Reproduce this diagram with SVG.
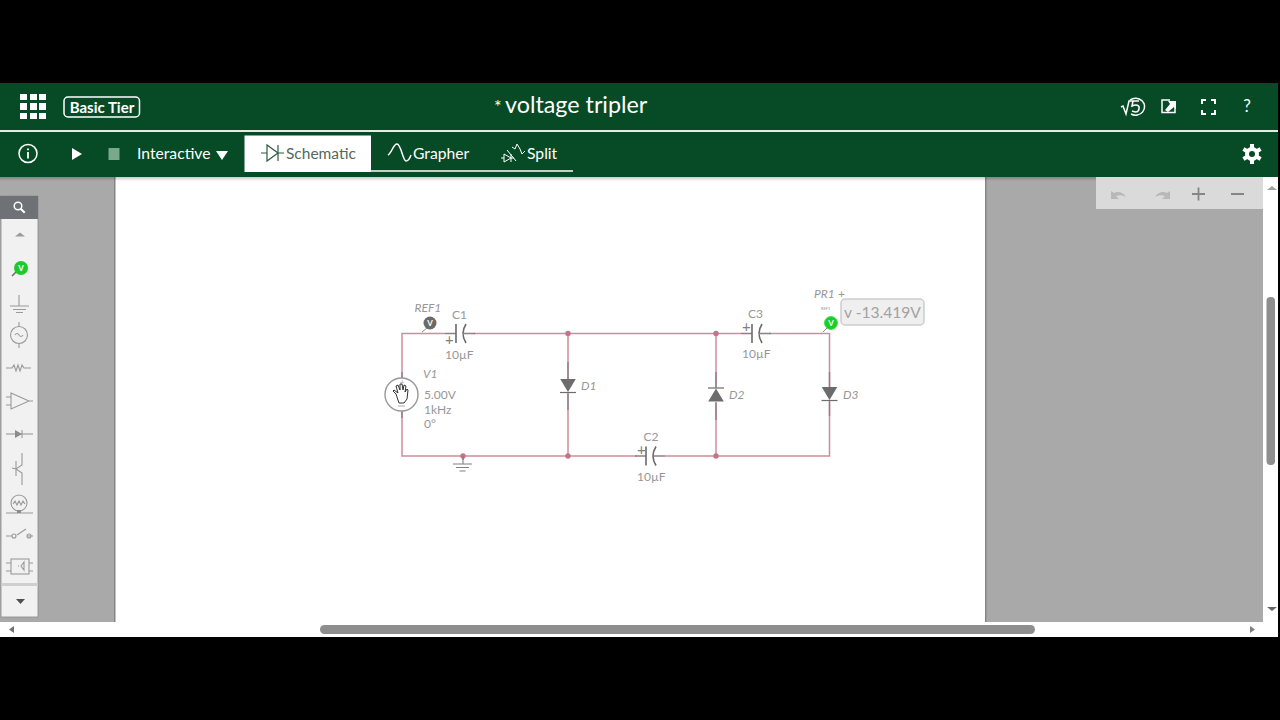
<svg xmlns="http://www.w3.org/2000/svg" width="1280" height="720" viewBox="0 0 1280 720">
<style>
text{font-family:Lato,"Open Sans","Liberation Sans",sans-serif}
.ui{fill:#fff;font-size:15.700px}
.lb{fill:#979797;font-size:12px}
.pl{fill:#808080;font-size:15px}
.it{font-style:italic}
.wire{fill:none;stroke:#d08c9c;stroke-width:1.500}
.lead{fill:none;stroke:#8f7f84;stroke-width:1.400}
.dot{fill:#c4738a}
.dio{fill:#6c6c6c}
.pal{fill:none;stroke:#9a9a9a;stroke-width:1.100}
.palf{fill:#8c8c8c}
.wl{fill:none;stroke:#fff;stroke-width:1.500}
</style>
<defs>
<linearGradient id="sh" x1="0" y1="0" x2="0" y2="1"><stop offset="0" stop-color="#000" stop-opacity=".22"/><stop offset="1" stop-color="#000" stop-opacity="0"/></linearGradient>
<g id="cap"><path class="lead" d="M-15 0H-4M4 0H15"/><path d="M-4-9.500V9.500" stroke="#6a6a6a" stroke-width="1.600" fill="none"/><path d="M6-9.500Q0 0 6 9.500" stroke="#6a6a6a" stroke-width="1.600" fill="none"/></g>
<g id="dd"><path class="dio" d="M-7.800-6.500H7.800L0 6.500Z"/><path d="M-8 7H8" stroke="#6c6c6c" stroke-width="1.200"/></g>
</defs>
<rect width="1280" height="720" fill="#000"/>
<rect x="0" y="83" width="1278" height="554" fill="#fff"/>
<rect x="0" y="83" width="1278" height="94" fill="#074b26"/>
<rect x="0" y="130" width="1278" height="2" fill="#e4ece6"/>
<rect x="0" y="177" width="115" height="445" fill="#a9a9a9"/>
<rect x="985" y="177" width="278" height="445" fill="#a9a9a9"/>
<rect x="115" y="177" width="870" height="445" fill="#fff"/>
<rect x="114" y="177" width="1.500" height="445" fill="#858585"/>
<rect x="985" y="177" width="1.500" height="445" fill="#858585"/>
<rect x="0" y="177" width="1263" height="4" fill="url(#sh)"/>

<g id="header">
<g fill="#fff"><rect x="20" y="94" width="7" height="6"/><rect x="30" y="94" width="7" height="6"/><rect x="39" y="94" width="7" height="6"/><rect x="20" y="103" width="7" height="7"/><rect x="30" y="103" width="7" height="7"/><rect x="39" y="103" width="7" height="7"/><rect x="20" y="113" width="7" height="6"/><rect x="30" y="113" width="7" height="6"/><rect x="39" y="113" width="7" height="6"/></g>
<rect x="64" y="97" width="75.500" height="20" rx="4" fill="none" stroke="#fff" stroke-width="1.500"/>
<text x="102" y="113" text-anchor="middle" font-size="15" font-weight="700" fill="#fff">Basic Tier</text>
<text x="494" y="113" font-size="18" fill="#fff">*</text>
<text x="505" y="112.500" font-size="23.300" fill="#fff">voltage tripler</text>
<g id="tool-icons">
<path class="wl" d="M1121 107l2-1 3 8 3-13h3"/>
<path class="wl" stroke-width="1.800" d="M1130 100a9 8.500 0 1 1 1 14M1132 101h7M1133 101l-1 5c4-2 8-1 7 3s-4 3-7 2"/>
<path class="wl" d="M1170 100h-8v12.500h13v-6"/><path d="M1165 110l5-6-2-3h8v8l-2-2-6 5z" fill="#fff"/>
<path d="M1202 104v-4h4M1211 100h4v4M1215 110v4h-4M1206 114h-4v-4" fill="none" stroke="#fff" stroke-width="2"/>
<text x="1247" y="112" text-anchor="middle" font-size="17" fill="#fff">?</text>
</g>
</g>

<g id="toolbar">
<circle cx="28" cy="153.500" r="9" fill="none" stroke="#fff" stroke-width="1.500"/>
<path d="M28 152v6.500M28 148.500v1.800" stroke="#fff" stroke-width="1.800"/>
<path d="M72 148l10 6-10 6z" fill="#fff"/>
<rect x="108.500" y="148" width="11" height="12" fill="#79a88d"/>
<text x="137" y="159" class="ui">Interactive</text>
<path d="M216 151h12l-6 9z" fill="#fff"/>
<rect x="244.500" y="135.500" width="126.500" height="36.500" fill="#fff"/>
<path d="M371 171H573" stroke="#fff" stroke-width="1.500"/>
<path d="M261 153h6M267 145v16l11-8zM278 145v16M278 153h6" fill="none" stroke="#2a5c40" stroke-width="1.200"/>
<text x="286" y="159" font-size="15.500" fill="#55695d">Schematic</text>
<path class="wl" d="M388 155c4-2 5-11 9-11s6 17 9 17 4-3 5-6"/>
<text x="413" y="159" class="ui">Grapher</text>
<path d="M504 162l7-4-7-4zM511 154v8M501 158h3M511 158h3M507 150l9 11M512 147l3 2 2-5 3 5 2 5 3-3" fill="none" stroke="#fff" stroke-width="1"/>
<text x="527" y="159" class="ui">Split</text>
<g id="gear" transform="translate(1252 154)"><circle r="7" fill="#fff"/><path d="M0-10V10M-8.600-5L8.600 5M-8.600 5L8.600-5" stroke="#fff" stroke-width="4"/><circle r="3" fill="#074b26"/></g>
</g>

<g id="palette">
<rect x="1" y="196" width="37" height="421" fill="#f1f1f1" stroke="#8a8a8a" stroke-width=".8"/>
<rect x="0" y="196" width="38" height="23" fill="#6e7276"/>
<circle cx="18" cy="206" r="3.800" fill="none" stroke="#fff" stroke-width="1.500"/><path d="M20.700 208.700l4 4" stroke="#fff" stroke-width="2"/>
<path d="M15 236.500l5-4 5 4z" fill="#9a9a9a"/>
<path d="M12 276l4-4" stroke="#666" stroke-width="1.500"/><circle cx="21" cy="268" r="7" fill="#1ec92c"/><text x="21" y="271" text-anchor="middle" font-size="8" font-weight="700" fill="#fff">V</text>
<path class="pal" d="M19 295v11M10 306h19M13 309.500h13M16 312.500h7"/>
<path class="pal" d="M19 322v5M19 343v5"/><circle class="pal" cx="19" cy="335" r="8.500"/><path class="pal" d="M15 335q2-3 4 0t4 0"/>
<path class="pal" d="M6 368h6l2-3 2 6 2-6 2 6 2-6 2 3h7"/>
<path class="pal" d="M11 393l18 8-18 8zM6 397h5M6 405h5M29 401h4"/>
<path class="pal" d="M6 434h27"/><path class="palf" d="M15 430l7 4-7 4z"/><path class="pal" d="M22 430v8"/>
<path class="pal" d="M22 453v12l-6 4-4-1M16 461v15M16 469l6 4v12"/>
<circle class="pal" cx="19" cy="503" r="8"/><path class="pal" d="M13 504l2-3 2 4 2-4 2 4 2-4 2 3M6 513h27"/><path class="palf" d="M17 510h4v3h-4z"/>
<path class="pal" d="M6 536h6M17 535l9-6M27 536h6"/><circle class="pal" cx="14" cy="536" r="2"/><circle class="pal" cx="29" cy="536" r="2"/>
<rect class="pal" x="11" y="559" width="18" height="15"/><path class="pal" d="M6 563h5M6 571h5M29 563h4M29 571h4M18 566h1M24 562l-3 4 3 4z"/>
<rect x="1" y="583" width="37" height="3" fill="#cfcfcf"/>
<path d="M16 599h9l-4.500 5z" fill="#505050"/>
</g>

<g id="connectors">
<path class="wire" d="M445 333.500H402V381M402 408V456H568M474 333.500H741M769 333.500H829.500V387M829.500 402V456H665M637 456H568"/>
<path class="wire" d="M568 333.500V380M568 394V456M716 333.500V387M716 403V456"/>
<path class="lead" d="M568 362V379M568 393V410M716 372V388M716 402V420M829.500 372V387M829.500 401V416"/>
<path class="lead" d="M402 372V381M402 408V418M463 456V460"/>
<path d="M422 332l5-4M823 332l5-5" stroke="#8a8a8a" stroke-width="1" fill="none"/>
<circle class="dot" cx="568" cy="333.500" r="2.700"/><circle class="dot" cx="568" cy="456" r="2.700"/><circle class="dot" cx="716" cy="333.500" r="2.700"/><circle class="dot" cx="716" cy="456" r="2.700"/><circle class="dot" cx="463" cy="456" r="2.700"/>
</g>

<g id="V1">
<circle cx="401.500" cy="394.500" r="16.500" fill="#fff" stroke="#999" stroke-width="1.400"/>
<text x="402" y="386" text-anchor="middle" font-size="9" fill="#aaa">+</text><path d="M398 406h7" stroke="#aaa"/>
<path d="M396 394l-3-3 1-1 4 3-2-7 2-1 2 5v-6h2l1 6 1-5 2 1-1 6 2-3 1 1-1 9-3 4h-5z" fill="#fff" stroke="#333" stroke-width="1"/>
<text x="423" y="378" class="lb it">V1</text>
<text x="424" y="399" class="lb">5.00V</text><text x="424" y="414" class="lb">1kHz</text><text x="424" y="428" class="lb">0°</text>
</g>
<g id="REF1">
<text x="414.500" y="312" class="lb it">REF1</text>
<circle cx="430" cy="323" r="6.500" fill="#6a6a6a"/><text x="430" y="326" text-anchor="middle" font-size="8" font-weight="700" fill="#fff">V</text>
</g>
<g id="C1"><use href="#cap" x="460" y="333.500"/><text x="452" y="319" class="lb">C1</text><text x="445" y="359" class="lb">10µF</text><text x="445" y="345" class="pl">+</text></g>
<g id="C2"><use href="#cap" x="650" y="456"/><text x="643.500" y="441" class="lb">C2</text><text x="637" y="481" class="lb">10µF</text><text x="637" y="455" class="pl">+</text></g>
<g id="C3"><use href="#cap" x="756" y="333.500"/><text x="748" y="318" class="lb">C3</text><text x="742" y="358" class="lb">10µF</text><text x="742" y="332" class="pl">+</text></g>
<g id="D1"><use href="#dd" x="568" y="385.500"/><text x="581" y="390" class="lb it">D1</text></g>
<g id="D2"><use href="#dd" transform="translate(716 395) scale(1 -1)"/><text x="729" y="399" class="lb it">D2</text></g>
<g id="D3"><use href="#dd" x="829.500" y="393.500"/><text x="843" y="399" class="lb it">D3</text></g>
<g id="G1"><path d="M463 456V464M453 464H472M456 467.500H469M459.500 471H465.500" stroke="#808080" stroke-width="1.100" fill="none"/></g>
<g id="PR1">
<text x="814" y="298" class="lb it">PR1</text><text x="838" y="298" class="lb">+</text>
<text x="821" y="310" font-size="4" fill="#999">REF1</text>
<circle cx="831" cy="323" r="6.500" fill="#17cf25" stroke="#4be056" stroke-width="1"/><text x="831" y="326" text-anchor="middle" font-size="8" font-weight="700" fill="#fff">V</text>
<rect x="841" y="299" width="83" height="26" rx="4" fill="#efefef" stroke="#cdcdcd" stroke-width="1.500"/>
<text x="844" y="318" font-size="15.600" fill="#a2a2a2">v -13.419V</text>
</g>

<g id="zoom-bar">
<rect x="1096" y="177" width="167" height="32" fill="#dadada"/>
<path d="M1111 199v-8l3 2c4-2 9-1 12 4-4-2-7-2-10-1l3 3z" fill="#b8b8b8"/>
<path d="M1170 199v-8l-3 2c-4-2-9-1-12 4 4-2 7-2 10-1l-3 3z" fill="#b8b8b8"/>
<path d="M1192 194h13M1198.500 187.500v13M1231 194h13" stroke="#858585" stroke-width="1.800" fill="none"/>
</g>

<g id="scrollbars">
<path d="M1267 190l5-4 5 4z" fill="#a0a0a0"/>
<path d="M1267 607h10l-5 4z" fill="#666"/>
<rect x="1266.500" y="297" width="8.500" height="168" rx="4" fill="#8e8e8e"/>
<rect x="320" y="625" width="715" height="9" rx="4.500" fill="#8e8e8e"/>
<path d="M14 626v7l-5-3.500z" fill="#707070"/>
<path d="M1250 626v7l5-3.500z" fill="#808080"/>
</g>
</svg>
